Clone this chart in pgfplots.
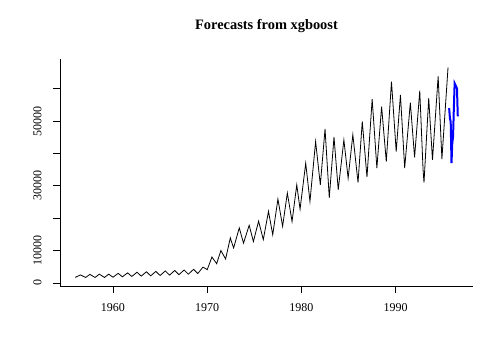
\documentclass[border=0pt]{standalone}
\usepackage{fontspec}
\setmainfont{Liberation Serif}
\usepackage{pgfplots}
\pgfplotsset{compat=1.18}
\begin{document}
\begin{tikzpicture}[x=1bp,y=1bp]
\useasboundingbox (0,0) rectangle (504,360);
\fill[white] (0,0) rectangle (504,360);
\begin{axis}[
 at={(60bp,74bp)}, anchor=south west,
 scale only axis, width=413bp, height=227bp,
 xmin=1954.38, xmax=1998.2, ymin=-952, ymax=69198,
 axis x line=bottom, axis y line=left,
 axis line style={-, line width=0.8bp},
 tick align=outside, major tick length=7bp,
 tick style={line width=0.8bp, black},
 scaled y ticks=false, scaled x ticks=false,
 xtick={1960,1970,1980,1990}, xticklabels={1960,1970,1980,1990},
 ytick={0,10000,20000,30000,40000,50000,60000},
 yticklabels={0,10000,,30000,,50000,},
 ticklabel style={font=\fontsize{12bp}{14bp}\selectfont},
 yticklabel style={rotate=90, anchor=south},
 xticklabel shift=7bp, yticklabel shift=8bp,
 title={Forecasts from xgboost},
 title style={font=\bfseries\fontsize{14.4bp}{17bp}\selectfont, at={(0.5,1)}, anchor=center, yshift=27bp},
 clip=false,
]
\addplot[black, line width=0.8bp] coordinates {
(1956.0,1709) (1956.55,2468) (1957.1,1688) (1957.55,2638) (1958.1,1688) (1958.55,2712)
(1959.1,1688) (1959.55,2712) (1960.0,1762) (1960.55,2965) (1961.0,1900) (1961.55,3100)
(1962.0,2000) (1962.55,3300) (1963.0,2100) (1963.55,3450) (1964.0,2200) (1964.55,3550)
(1965.0,2300) (1965.55,3700) (1966.0,2400) (1966.55,3850) (1967.0,2550) (1967.55,4000)
(1968.0,2700) (1968.55,4200) (1969.0,2900) (1969.55,4900) (1970.0,4100) (1970.5,8000)
(1971.0,5950) (1971.45,10000) (1971.95,7400) (1972.45,13900) (1972.8,10800) (1973.4,17000)
(1973.85,12300) (1974.45,17800) (1974.9,12800) (1975.45,19100) (1975.95,13400) (1976.5,22100)
(1976.95,14900) (1977.5,25900) (1978.0,17500) (1978.5,27800) (1979.0,19000) (1979.5,30300)
(1979.85,22800) (1980.45,37000) (1980.9,25200) (1981.5,43700) (1982.0,30300) (1982.5,47600)
(1982.95,26300) (1983.45,45100) (1983.9,28800) (1984.5,44200) (1984.95,32400) (1985.45,45800)
(1986.0,31000) (1986.45,49900) (1986.95,32700) (1987.5,56800) (1988.0,35500) (1988.5,54500)
(1989.0,37500) (1989.55,62200) (1990.05,40600) (1990.5,58100) (1990.95,35500) (1991.55,55700)
(1992.0,38800) (1992.55,59400) (1992.9,35000) (1993.0,31000) (1993.5,57100) (1993.9,38000)
(1994.5,63800) (1994.9,38300) (1995.55,66600)
};
\addplot[blue, line width=2bp] coordinates {
(1995.667,54000) (1995.75,50900) (1995.833,49800) (1995.917,37000) (1996.0,43200) (1996.083,45200)
(1996.167,54000) (1996.25,61700) (1996.333,61200) (1996.417,60700) (1996.5,60000) (1996.583,51500)
};
\end{axis}
\end{tikzpicture}
\end{document}
